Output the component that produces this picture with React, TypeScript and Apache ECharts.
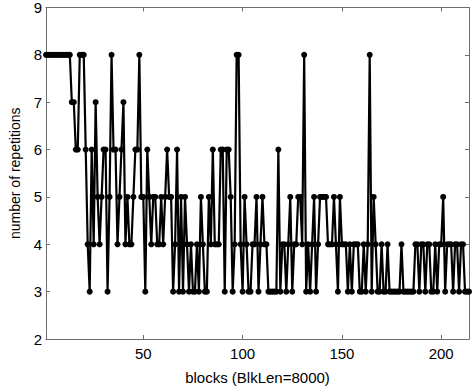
import React, { useEffect, useRef } from "react";
import * as echarts from "echarts";

const repetitions: number[] = [
  8, 8, 8, 8, 8, 8, 8, 8, 8, 8, 8, 8, 8, 7, 7, 6, 6, 8, 8, 8,
  6, 4, 3, 6, 4, 7, 5, 4, 5, 6, 6, 3, 5, 8, 6, 6, 4, 5, 6, 7,
  4, 5, 4, 4, 5, 6, 6, 8, 5, 5, 3, 6, 5, 4, 5, 5, 4, 4, 5, 4,
  5, 6, 5, 5, 3, 4, 6, 3, 5, 3, 5, 4, 3, 4, 3, 3, 4, 3, 5, 4,
  3, 3, 5, 4, 6, 4, 4, 4, 6, 6, 3, 6, 6, 5, 3, 4, 8, 8, 4, 3,
  5, 4, 3, 3, 4, 4, 5, 3, 4, 5, 4, 4, 3, 3, 3, 3, 3, 6, 3, 4,
  4, 3, 4, 5, 3, 4, 4, 5, 5, 4, 8, 3, 4, 3, 4, 5, 3, 4, 5, 5,
  5, 5, 4, 4, 4, 5, 4, 3, 5, 4, 4, 4, 3, 4, 3, 4, 4, 4, 3, 3,
  4, 3, 4, 8, 3, 5, 4, 3, 3, 4, 3, 3, 4, 3, 3, 3, 3, 3, 3, 4,
  3, 3, 3, 3, 3, 3, 4, 4, 3, 4, 4, 3, 4, 4, 3, 3, 4, 3, 4, 4,
  5, 3, 4, 4, 4, 3, 4, 4, 3, 4, 4, 3, 3, 3,
];

const xTicks: number[] = [50, 100, 150, 200];
const yTicks: number[] = [2, 3, 4, 5, 6, 7, 8, 9];

export default function App() {
  const ref = useRef<HTMLDivElement>(null);
  useEffect(() => {
    if (!ref.current) return;
    const chart = echarts.init(ref.current, null, { renderer: "svg" });
    const font = "'Liberation Sans', Arial, Helvetica, sans-serif";
    const axisColor = "#6e6e6e";
    const data = repetitions.map((v, i) => [i + 1, v]);
    const baseX = {
      type: "value" as const,
      min: 1,
      max: 214,
      splitLine: { show: false },
      axisLine: { show: true, onZero: false, lineStyle: { color: axisColor, width: 1 } },
      axisTick: { show: true, inside: true, length: 4, customValues: xTicks, lineStyle: { color: axisColor } },
    };
    const baseY = {
      type: "value" as const,
      min: 2,
      max: 9,
      interval: 1,
      splitLine: { show: false },
      axisLine: { show: true, onZero: false, lineStyle: { color: axisColor, width: 1 } },
      axisTick: { show: true, inside: true, length: 4, lineStyle: { color: axisColor } },
    };
    chart.setOption({
      animation: false,
      backgroundColor: "#ffffff",
      grid: { left: 34, top: 5, width: 435, height: 345, containLabel: false },
      xAxis: [
        {
          ...baseX,
          position: "bottom",
          name: "blocks (BlkLen=8000)",
          nameLocation: "middle",
          nameGap: 31,
          nameTextStyle: { color: "#000", fontSize: 15, fontFamily: font },
          axisLabel: { show: true, customValues: xTicks, color: "#000", fontSize: 15, fontFamily: font, margin: 7 },
        },
        {
          ...baseX,
          position: "top",
          axisLabel: { show: false },
        },
      ],
      yAxis: [
        {
          ...baseY,
          position: "left",
          name: "number of repetitions",
          nameLocation: "middle",
          nameGap: 24,
          nameTextStyle: { color: "#000", fontSize: 14, fontFamily: font },
          axisLabel: {
            show: true,
            color: "#000",
            fontSize: 15,
            fontFamily: font,
            margin: 4,
            formatter: (v: number) => (yTicks.includes(v) ? String(v) : ""),
          },
        },
        {
          ...baseY,
          position: "right",
          axisLabel: { show: false },
        },
      ],
      series: [
        {
          type: "line",
          data,
          xAxisIndex: 0,
          yAxisIndex: 0,
          symbol: "circle",
          symbolSize: 6,
          showSymbol: true,
          lineStyle: { color: "#000", width: 2.2 },
          itemStyle: { color: "#000" },
        },
      ],
    });
    return () => chart.dispose();
  }, []);
  return (
    <div
      ref={ref}
      style={{ position: "fixed", left: 0, top: 0, width: 474, height: 390, background: "#fff" }}
    />
  );
}
